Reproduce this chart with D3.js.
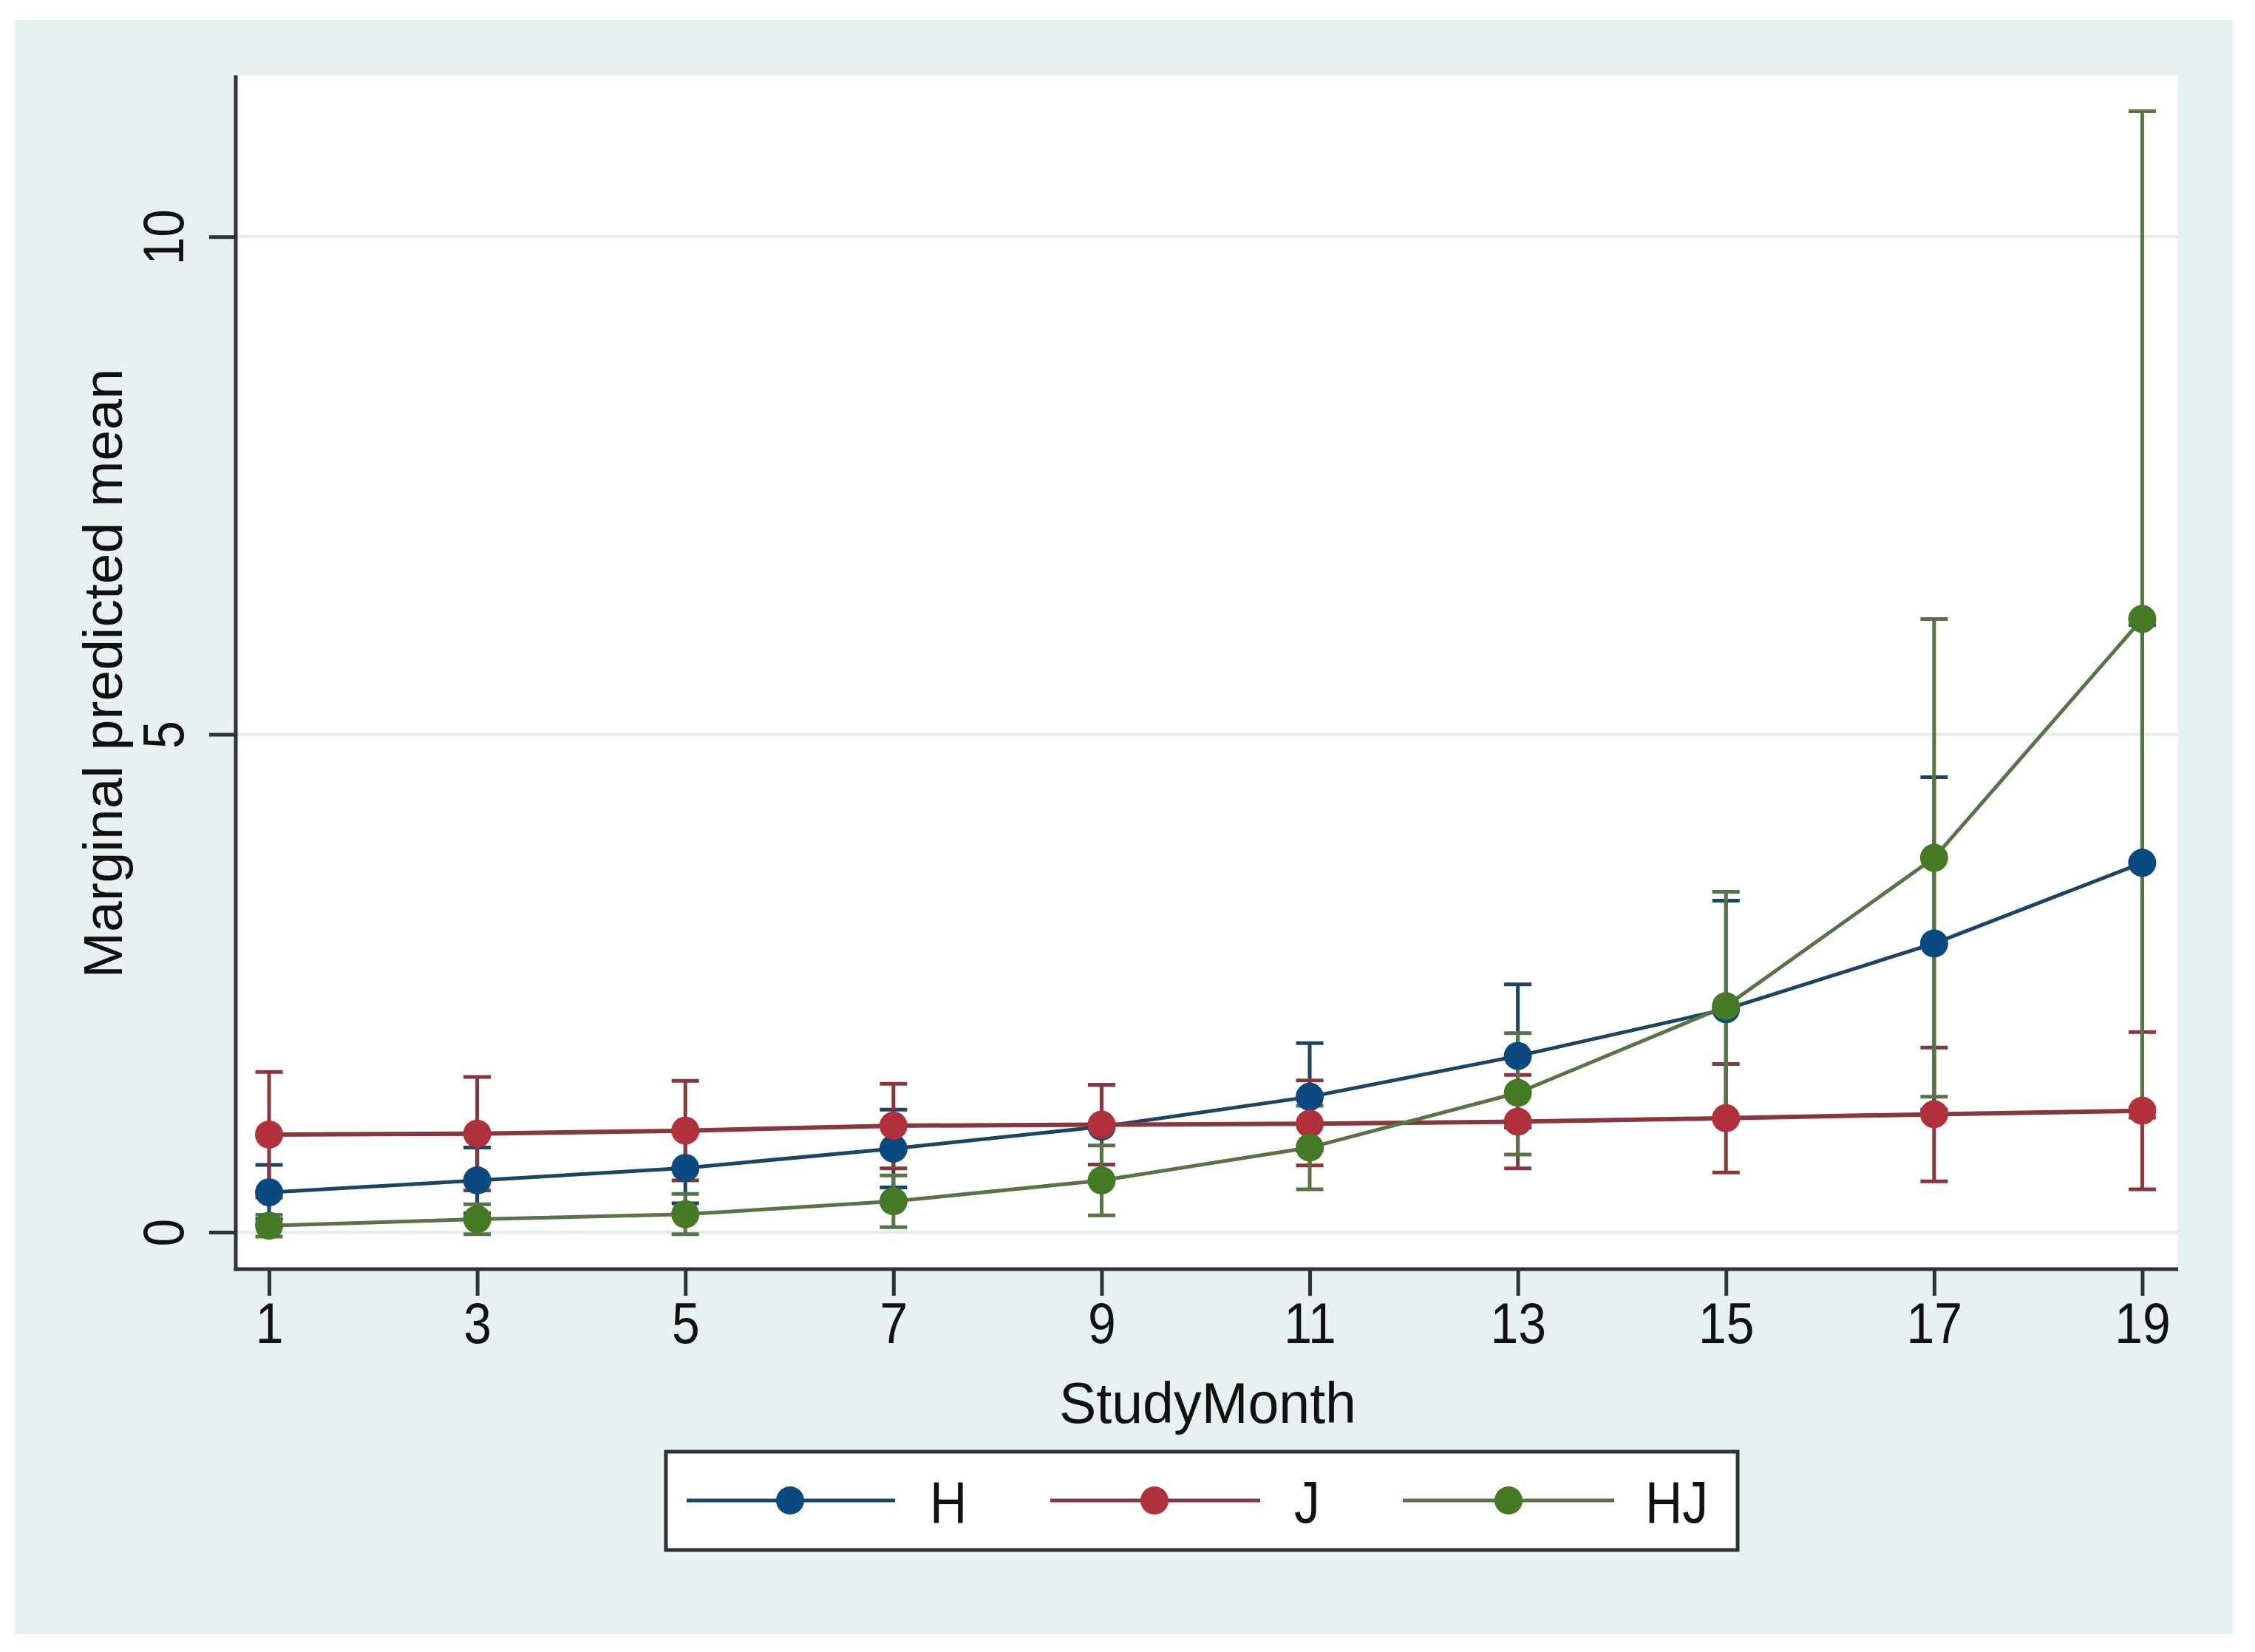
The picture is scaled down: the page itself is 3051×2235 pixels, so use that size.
<!DOCTYPE html>
<html>
<head>
<meta charset="utf-8">
<script src="https://cdn.jsdelivr.net/npm/d3@7"></script>
<style>
  html, body { margin: 0; padding: 0; background: #ffffff; }
  svg { display: block; }
  text { font-family: "Liberation Sans", Arial, sans-serif; fill: #111; }
</style>
</head>
<body>
<svg id="chart" width="3051" height="2235"></svg>
<script>
// ---------------- data ----------------
const months = [1, 3, 5, 7, 9, 11, 13, 15, 17, 19];
const xTickLabels = ["1", "3", "5", "7", "9", "11", "13", "15", "17", "19"];
const yTickValues = [0, 5, 10];
const seriesNames = ["H", "J", "HJ"];

const hMean = [0.40, 0.52, 0.645, 0.84, 1.06, 1.36, 1.77, 2.24, 2.90, 3.71];
const hLow  = [0.13, 0.19, 0.29, 0.45, 0.68, 0.82, 1.05, 1.15, 1.23, 1.25];
const hHigh = [0.675, 0.85, 1.00, 1.23, 1.48, 1.90, 2.49, 3.33, 4.57, 6.10];

const jMean = [0.98, 0.99, 1.02, 1.07, 1.08, 1.09, 1.11, 1.145, 1.185, 1.22];
const jLow  = [0.35, 0.42, 0.52, 0.64, 0.68, 0.67, 0.64, 0.60, 0.51, 0.43];
const jHigh = [1.61, 1.56, 1.52, 1.49, 1.48, 1.525, 1.58, 1.69, 1.855, 2.01];

const hjMean = [0.065, 0.13, 0.18, 0.31, 0.52, 0.85, 1.40, 2.27, 3.76, 6.16];
const hjLow  = [-0.045, -0.02, -0.02, 0.05, 0.17, 0.43, 0.78, 1.12, 1.36, 1.15];
const hjHigh = [0.175, 0.28, 0.385, 0.57, 0.87, 1.27, 2.00, 3.42, 6.16, 11.26];

const xTitle = "StudyMonth";
const yTitle = "Marginal predicted mean";

// ---------------- styles ----------------
const lineColors   = ["#1c4465", "#86383f", "#587347"];
const markerColors = ["#0a4a80", "#b0313b", "#457a24"];

const series = [
  { name: seriesNames[0], mean: hMean, low: hLow, high: hHigh },
  { name: seriesNames[1], mean: jMean, low: jLow, high: jHigh },
  { name: seriesNames[2], mean: hjMean, low: hjLow, high: hjHigh }
];

const svg = d3.select("#chart");

// outer background
svg.append("rect").attr("x", 20).attr("y", 27).attr("width", 3001).attr("height", 2184)
  .attr("fill", "#e7f1f2");

// plot region
const pLeft = 319, pRight = 2947, pTop = 102, pBottom = 1717;
svg.append("rect").attr("x", pLeft).attr("y", pTop).attr("width", pRight - pLeft).attr("height", pBottom - pTop)
  .attr("fill", "#ffffff");

const x = d3.scaleLinear().domain([0.68, 19.345]).range([pLeft, pRight]);
const y = d3.scaleLinear().domain([-0.371, 11.62]).range([pBottom, pTop]);

// gridlines
svg.append("g").selectAll("line").data(yTickValues).join("line")
  .attr("x1", pLeft).attr("x2", pRight)
  .attr("y1", d => y(d)).attr("y2", d => y(d))
  .attr("stroke", "#e3edef").attr("stroke-width", 4);

// error bars (drawn first)
const capHalf = 18.5;
series.forEach((s, si) => {
  const g = svg.append("g").attr("stroke", lineColors[si]).attr("stroke-width", 5).attr("fill", "none");
  months.forEach((m, i) => {
    g.append("line").attr("x1", x(m)).attr("x2", x(m)).attr("y1", y(s.low[i])).attr("y2", y(s.high[i]));
    g.append("line").attr("x1", x(m) - capHalf).attr("x2", x(m) + capHalf).attr("y1", y(s.low[i])).attr("y2", y(s.low[i]));
    g.append("line").attr("x1", x(m) - capHalf).attr("x2", x(m) + capHalf).attr("y1", y(s.high[i])).attr("y2", y(s.high[i]));
  });
});

// connected lines with markers
const lineGen = d3.line().x((d, i) => x(months[i])).y(d => y(d));
series.forEach((s, si) => {
  svg.append("path").datum(s.mean).attr("d", lineGen)
    .attr("fill", "none").attr("stroke", lineColors[si]).attr("stroke-width", si === 1 ? 6 : 5);
  svg.append("g").selectAll("circle").data(s.mean).join("circle")
    .attr("cx", (d, i) => x(months[i])).attr("cy", d => y(d)).attr("r", 19)
    .attr("fill", markerColors[si]);
});

// axes
const axisColor = "#2f3335";
const yAxis = svg.append("g").attr("transform", `translate(${pLeft},0)`)
  .call(d3.axisLeft(y).tickValues(yTickValues).tickSize(36).tickSizeOuter(0).tickFormat(d3.format("d")));
const xAxis = svg.append("g").attr("transform", `translate(0,${pBottom})`)
  .call(d3.axisBottom(x).tickValues(months).tickSize(36).tickSizeOuter(0).tickFormat((d, i) => xTickLabels[i]));

[xAxis, yAxis].forEach(a => {
  a.select(".domain").attr("stroke", axisColor).attr("stroke-width", 5);
  a.selectAll(".tick line").attr("stroke", axisColor).attr("stroke-width", 5);
  a.selectAll(".tick text").attr("font-size", 78).attr("fill", "#111")
    .attr("font-family", "Liberation Sans, Arial, sans-serif");
});
yAxis.select(".domain").attr("d", `M0,${pTop}V${pBottom + 2.5}`);
xAxis.select(".domain").attr("d", `M${pLeft - 2.5},0H${pRight}`);

yAxis.selectAll(".tick text")
  .attr("x", null).attr("dy", null).attr("text-anchor", "middle")
  .attr("transform", "translate(-71,0) rotate(-90) scale(0.87,1)");
xAxis.selectAll(".tick text")
  .attr("y", 100).attr("dy", null).attr("text-anchor", "middle")
  .attr("transform", "scale(0.87,1)");

// axis titles
svg.append("text").attr("x", 1634).attr("y", 1925).attr("text-anchor", "middle")
  .attr("font-size", 78).attr("textLength", 402).attr("lengthAdjust", "spacingAndGlyphs")
  .text(xTitle);
svg.append("text").attr("transform", "translate(165,911) rotate(-90)").attr("text-anchor", "middle")
  .attr("font-size", 74).attr("textLength", 825).attr("lengthAdjust", "spacingAndGlyphs")
  .text(yTitle);

// legend
const leg = svg.append("g");
leg.append("rect").attr("x", 901).attr("y", 1964).attr("width", 1450).attr("height", 133)
  .attr("fill", "#ffffff").attr("stroke", axisColor).attr("stroke-width", 5);
const legItems = [
  { x1: 929, x2: 1211, cx: 1069, tx: 1258 },
  { x1: 1421, x2: 1705, cx: 1562, tx: 1751 },
  { x1: 1898, x2: 2184, cx: 2041, tx: 2226 }
];
const legY = 2030;
legItems.forEach((it, i) => {
  leg.append("line").attr("x1", it.x1).attr("x2", it.x2).attr("y1", legY).attr("y2", legY)
    .attr("stroke", lineColors[i]).attr("stroke-width", 5);
  leg.append("circle").attr("cx", it.cx).attr("cy", legY).attr("r", 19).attr("fill", markerColors[i]);
  leg.append("text").attr("transform", `translate(${it.tx},2060) scale(0.87,1)`)
    .attr("font-size", 80).text(seriesNames[i]);
});
</script>
</body>
</html>
